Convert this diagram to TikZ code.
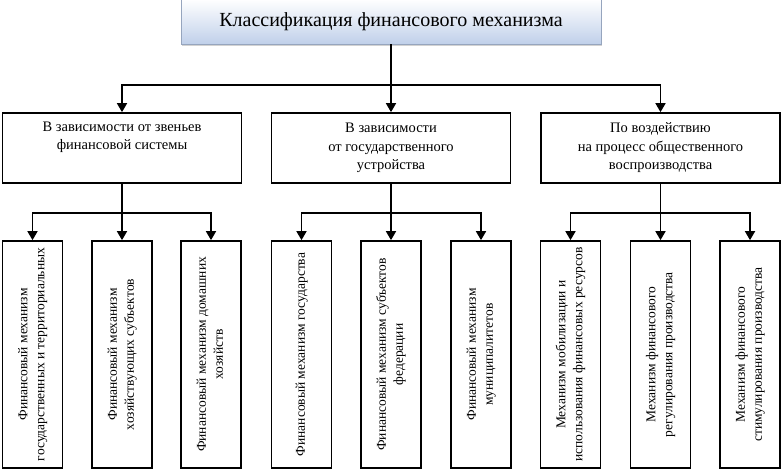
\documentclass[tikz,border=0pt]{standalone}
\usepackage{fontspec}
\setmainfont{Liberation Serif}
\usetikzlibrary{arrows.meta,shadows}
\definecolor{topfill}{RGB}{192,208,234}
\definecolor{topline}{RGB}{150,165,190}
\newcommand{\vtext}[1]{\rotatebox{90}{\begin{tabular}{@{}c@{}}#1\end{tabular}}}
\begin{document}
\begin{tikzpicture}[x=1pt,y=-1pt,
  arr/.style={-{Triangle[length=9pt,width=10pt]}, line width=1.7pt},
  titlebox/.style={draw=topline, line width=0.8pt, top color=white, bottom color=topfill,
    drop shadow={shadow xshift=1pt,shadow yshift=-1.5pt,fill=black!35},
    minimum width=420pt, minimum height=45pt, inner sep=0pt, font=\fontsize{20}{24}\selectfont},
  catbox/.style={draw, line width=1.7pt, minimum width=239pt, minimum height=70pt, inner sep=0pt,
    align=center, font=\fontsize{14.5}{18.5}\selectfont},
  leafbox/.style={draw, line width=1.7pt, minimum width=60pt, minimum height=227pt, inner sep=0pt,
    font=\fontsize{13.5}{17}\selectfont}
]
\useasboundingbox (0,0) rectangle (781,469);
% title
\node[titlebox] (top) at (391,21.5) {Классификация финансового механизма};
% categories
\node[catbox] (c1) at (122,148) {В зависимости от звеньев\\финансовой системы\\\strut};
\node[catbox] (c2) at (391,148) {В зависимости\\от государственного\\устройства};
\node[catbox] (c3) at (660.5,148) {По воздействию\\на процесс общественного\\воспроизводства};
% leaves
\node[leafbox] (l1) at (32.5,354.5) {\vtext{Финансовый механизм\\государственных и территориальных}};
\node[leafbox] (l2) at (122,354.5) {\vtext{Финансовый механизм\\хозяйствующих субъектов}};
\node[leafbox] (l3) at (211,354.5) {\vtext{Финансовый механизм домашних\\хозяйств}};
\node[leafbox] (l4) at (301.5,354.5) {\vtext{Финансовый механизм государства}};
\node[leafbox] (l5) at (391,354.5) {\vtext{Финансовый механизм субъектов\\федерации}};
\node[leafbox] (l6) at (481,354.5) {\vtext{Финансовый механизм\\муниципалитетов}};
\node[leafbox] (l7) at (570.5,354.5) {\vtext{Механизм мобилизации и\\использования финансовых ресурсов}};
\node[leafbox] (l8) at (660.5,354.5) {\vtext{Механизм финансового\\регулирования производства}};
\node[leafbox] (l9) at (750,354.5) {\vtext{Механизм финансового\\стимулирования производства}};
% junctions
\coordinate (j0) at (391,85);
\coordinate (j1) at (122,213);
\coordinate (j2) at (391,213);
\coordinate (j3) at (660.5,213);
% connectors
\draw[arr] (top.south) -- (c2.north);
\draw[arr] (j0) -| (c1.north);
\draw[arr] (j0) -| (c3.north);
\draw[arr] (c1.south) -- (l2.north);
\draw[arr] (j1) -| (l1.north);
\draw[arr] (j1) -| (l3.north);
\draw[arr] (c2.south) -- (l5.north);
\draw[arr] (j2) -| (l4.north);
\draw[arr] (j2) -| (l6.north);
\draw[arr] (c3.south) -- (l8.north);
\draw[arr] (j3) -| (l7.north);
\draw[arr] (j3) -| (l9.north);
\end{tikzpicture}
\end{document}
